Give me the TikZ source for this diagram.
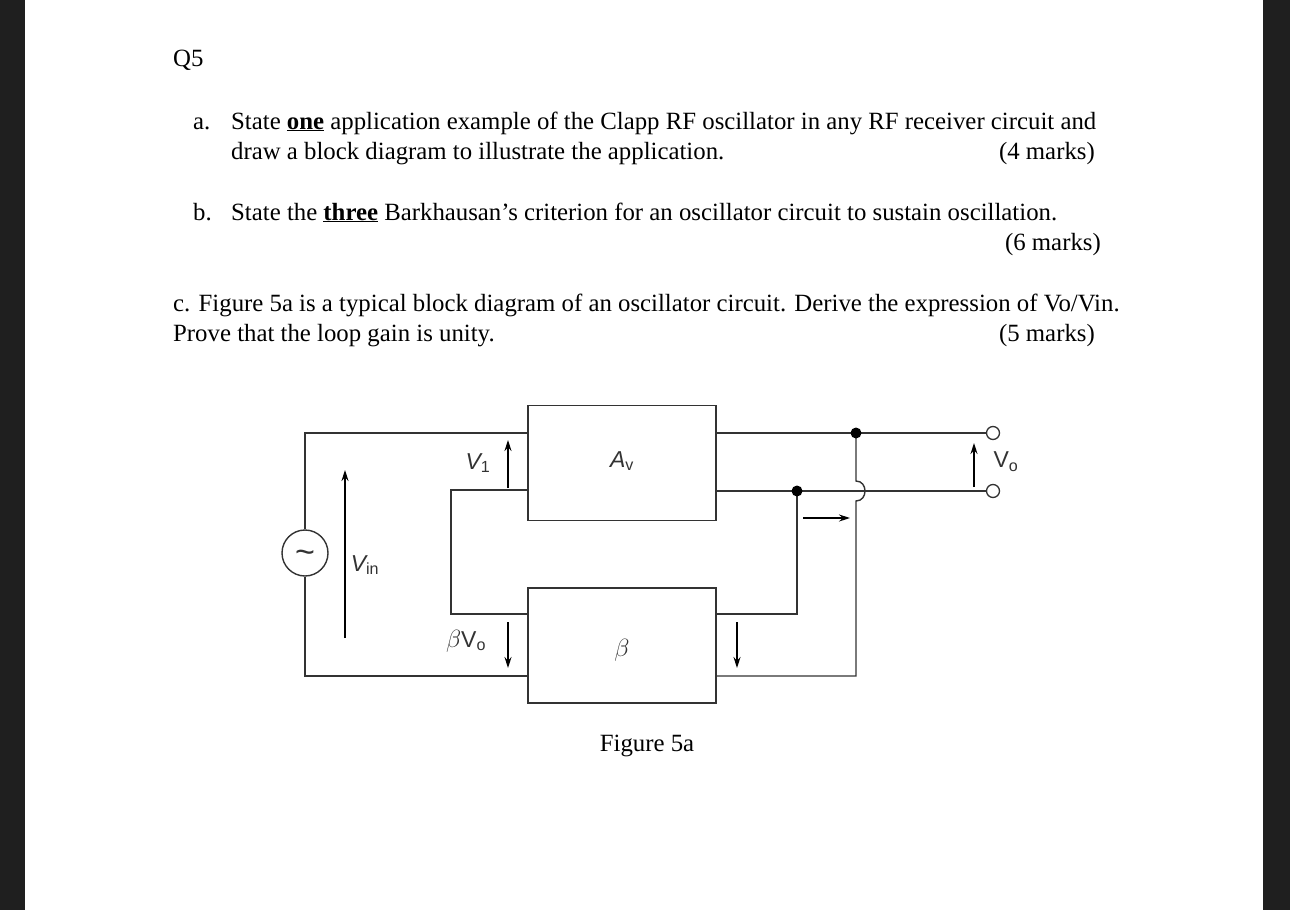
\documentclass[tikz,border=0pt]{standalone}
\usepackage{fontspec}
\setmainfont{Liberation Serif}
\newfontfamily\lsans{Liberation Sans}
\usetikzlibrary{arrows.meta}
\begin{document}
\begin{tikzpicture}[x=1pt,y=-1pt,
  wire/.style={line width=1.4pt,black!80},
  arr/.style={line width=1.3pt,black,-{Stealth[length=11pt,width=7pt]}},
  blk/.style={draw,line width=1.4pt,black!80,minimum width=188pt,minimum height=115pt,inner sep=0pt},
  txt/.style={anchor=base west,inner sep=0pt,font=\fontsize{24.8}{28}\selectfont},
  lab/.style={inner sep=0pt,text=black!80,font=\lsans\fontsize{23}{24}\selectfont},
  dot/.style={circle,fill=black,inner sep=0pt,minimum size=11pt},
  term/.style={circle,draw,line width=1.3pt,black!80,fill=white,inner sep=0pt,minimum size=13pt}]
\fill[black!88] (0,0) rectangle (1290,910);
\fill[white] (25,0) rectangle (1263,910);
\useasboundingbox (0,0) rectangle (1290,910);
% text
\node[txt] (q) at (173,66) {Q5};
\node[txt] (a1) at (193,129) {a.};
\node[txt] (a2) at (231,129) {State \underline{\textbf{one}} application example of the Clapp RF oscillator in any RF receiver circuit and};
\node[txt] (a3) at (231,159) {draw a block diagram to illustrate the application.};
\node[txt,anchor=base east] (a4) at (1095,159) {(4 marks)};
\node[txt] (b1) at (193,220) {b.};
\node[txt] (b2) at (231,220) {State the \underline{\textbf{three}} Barkhausan’s criterion for an oscillator circuit to sustain oscillation.};
\node[txt,anchor=base east] (b3) at (1101,250) {(6 marks)};
\node[txt] (c1) at (173,311) {c. Figure 5a is a typical block diagram of an oscillator circuit. Derive the expression of Vo/Vin.};
\node[txt] (c2) at (173,341) {Prove that the loop gain is unity.};
\node[txt,anchor=base east] (c3) at (1095,341) {(5 marks)};
\node[txt,anchor=base] (cap) at (647,751) {Figure 5a};
% blocks
\node[blk] (av) at (622,463) {};
\node[lab] at (622,461) {\itshape A\textsubscript{\upshape v}};
\node[blk] (be) at (622,645.5) {};
\node[lab] at (622,650) {$\beta$};
% source
\node[circle,draw,line width=1.4pt,black!80,minimum size=46pt,inner sep=0pt] (src) at (305,553) {};
\node[lab,font=\lsans\fontsize{34}{34}\selectfont] at (305,557) {\textasciitilde};
\coordinate (t1) at (993,433);
\coordinate (t2) at (993,491);
\draw[wire] (src.north) |- (528,433);
\draw[wire] (src.south) |- (528,676);
\draw[wire] (528,490) -- (451,490) |- (528,614);
\draw[wire] (716,433) -- (t1);
\draw[wire] (716,491) -- (t2);
\draw[wire] (797,491) |- (716,614);
\draw[wire] (856,433) -- (856,481) .. controls (868,481) and (868,501) .. (856,501) -- (856,676) -- (716,676);
\node[dot] (d1) at (856,433) {};
\node[dot] (d2) at (797,491) {};
\node[term] (o1) at (t1) {};
\node[term] (o2) at (t2) {};
% arrows
\draw[arr] (345,638) -- (345,470);
\node[lab] at (365,565) {\itshape V\textsubscript{\upshape in}};
\draw[arr] (508,488) -- (508,440);
\node[lab] at (478,463) {\itshape V\textsubscript{\upshape 1}};
\draw[arr] (508,622) -- (508,668);
\node[lab] at (466,641) {$\beta$V\textsubscript{o}};
\draw[arr] (737,622) -- (737,668);
\draw[arr] (803,518) -- (850,518);
\draw[arr] (974,487) -- (974,443);
\node[lab] at (1006,462) {V\textsubscript{o}};
\end{tikzpicture}
\end{document}
